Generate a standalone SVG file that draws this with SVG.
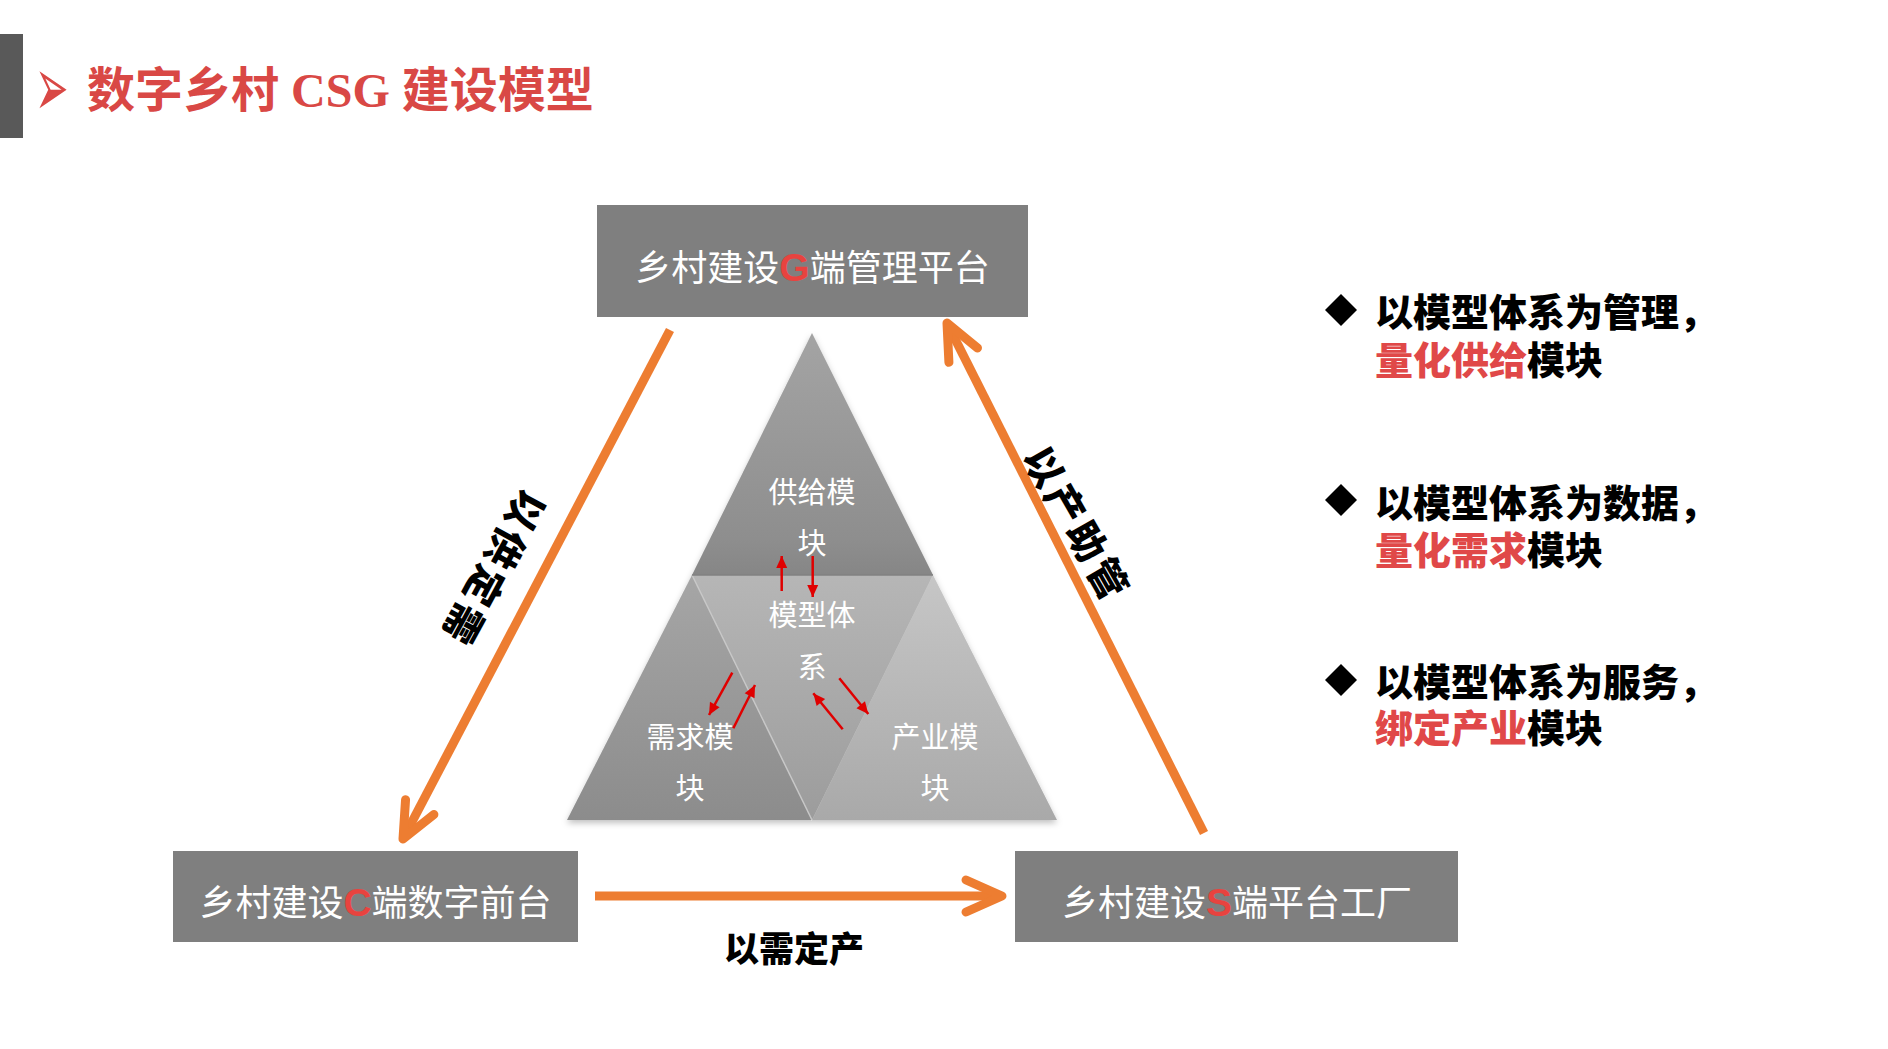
<svg xmlns="http://www.w3.org/2000/svg" width="1888" height="1049" viewBox="0 0 1888 1049">
<defs>
<style>
.cjk{font-family:"Noto Sans CJK SC","Noto Sans",sans-serif;}
.node-rect{fill:#7f7f7f;}
.node-text{font-family:"Noto Sans CJK SC","Noto Sans",sans-serif;font-size:36px;fill:#ffffff;text-anchor:middle;}
.node-letter{font-family:"Liberation Sans","Noto Sans CJK SC",sans-serif;font-weight:bold;font-size:39px;fill:#e8433f;}
.tri-text{font-family:"Noto Sans CJK SC","Noto Sans",sans-serif;font-size:29px;fill:#ffffff;text-anchor:middle;}
.orange{fill:none;stroke:#ed7d31;stroke-width:9;}
.redline{fill:none;stroke:#e00000;stroke-width:2.5;}
.edge-label{font-family:"Noto Sans CJK SC","Noto Sans",sans-serif;font-weight:900;font-size:39px;fill:#000000;text-anchor:middle;}
.bottom-label{font-size:35px;}
.bullet{font-family:"Noto Sans CJK SC","Noto Sans",sans-serif;font-weight:900;font-size:38px;fill:#000000;}
.hl{fill:#e04848;}
</style>
<marker id="chev" markerUnits="userSpaceOnUse" viewBox="-45 -25 52 50" markerWidth="52" markerHeight="50" refX="0" refY="0" orient="auto">
<path d="M-36,-16 L0,0 L-36,16" fill="none" stroke="#ed7d31" stroke-width="9" stroke-linecap="round" stroke-linejoin="round"/>
</marker>
<marker id="redhead" markerUnits="userSpaceOnUse" viewBox="-13 -6 14 12" markerWidth="14" markerHeight="12" refX="0" refY="0" orient="auto">
<path d="M-12,-5.5 L0,0 L-12,5.5 Z" fill="#e00000"/>
</marker>
<linearGradient id="gTop" x1="0" y1="0" x2="0" y2="1">
<stop offset="0" stop-color="#a4a4a4"/>
<stop offset="0.85" stop-color="#8e8e8e"/>
<stop offset="1" stop-color="#868686"/>
</linearGradient>
<linearGradient id="gLeft" x1="0" y1="0" x2="0" y2="1">
<stop offset="0" stop-color="#a6a6a6"/>
<stop offset="1" stop-color="#8c8c8c"/>
</linearGradient>
<linearGradient id="gMid" x1="0" y1="0" x2="0" y2="1">
<stop offset="0" stop-color="#b6b6b6"/>
<stop offset="1" stop-color="#9c9c9c"/>
</linearGradient>
<linearGradient id="gRight" x1="0" y1="0" x2="0" y2="1">
<stop offset="0" stop-color="#c6c6c6"/>
<stop offset="1" stop-color="#a9a9a9"/>
</linearGradient>
<filter id="shadow" x="-10%" y="-10%" width="120%" height="125%">
<feDropShadow dx="0" dy="3" stdDeviation="3" flood-color="#000000" flood-opacity="0.25"/>
</filter>
</defs>
<rect width="1888" height="1049" fill="#ffffff"/>

<g id="title">
<rect x="0" y="34" width="23" height="104" fill="#595959"/>
<text transform="translate(35,116) scale(1,2.1)" font-family="DejaVu Sans,sans-serif" font-size="40" fill="#d94845">➢</text>
<text x="87" y="107" font-size="48" font-weight="bold" fill="#d94845"><tspan class="cjk">数字乡村</tspan><tspan font-family="Liberation Serif,serif"> CSG </tspan><tspan class="cjk">建设模型</tspan></text>
</g>

<g id="pyramid" filter="url(#shadow)">
<polygon points="812,333 692,575 933,575" fill="url(#gTop)"/>
<polygon points="692,575 567,820 812,820" fill="url(#gLeft)"/>
<polygon points="933,575 812,820 1057,820" fill="url(#gRight)"/>
<polygon points="692,575 933,575 812,820" fill="url(#gMid)"/>
<polyline points="692,575 812,820" fill="none" stroke="#c8c8c8" stroke-width="1.5"/>
<line x1="692" y1="575" x2="933" y2="575" stroke="#808080" stroke-width="1.5"/>
</g>

<g id="node-supply">
<text class="tri-text" x="812" y="503">供给模</text>
<text class="tri-text" x="812" y="554">块</text>
</g>
<g id="node-model">
<text class="tri-text" x="812" y="626">模型体</text>
<text class="tri-text" x="812" y="678">系</text>
</g>
<g id="node-demand">
<text class="tri-text" x="690" y="748">需求模</text>
<text class="tri-text" x="690" y="799">块</text>
</g>
<g id="node-industry">
<text class="tri-text" x="935" y="748">产业模</text>
<text class="tri-text" x="935" y="799">块</text>
</g>

<g id="node-G">
<rect class="node-rect" x="597" y="205" width="431" height="112"/>
<text class="node-text" x="812.5" y="281">乡村建设<tspan class="node-letter">G</tspan>端管理平台</text>
</g>
<g id="node-C">
<rect class="node-rect" x="173" y="851" width="405" height="91"/>
<text class="node-text" x="375.5" y="916">乡村建设<tspan class="node-letter">C</tspan>端数字前台</text>
</g>
<g id="node-S">
<rect class="node-rect" x="1015" y="851" width="443" height="91"/>
<text class="node-text" x="1237" y="916">乡村建设<tspan class="node-letter">S</tspan>端平台工厂</text>
</g>

<g id="connectors">
<line class="orange" x1="670" y1="330" x2="403" y2="839" marker-end="url(#chev)"/>
<line class="orange" x1="1204" y1="833" x2="947" y2="323" marker-end="url(#chev)"/>
<line class="orange" x1="595" y1="896" x2="1002" y2="896" marker-end="url(#chev)"/>
<line class="redline" x1="781.7" y1="591" x2="781.7" y2="556" marker-end="url(#redhead)"/>
<line class="redline" x1="812.7" y1="556" x2="812.7" y2="597" marker-end="url(#redhead)"/>
<line class="redline" x1="732.3" y1="672.7" x2="709" y2="715" marker-end="url(#redhead)"/>
<line class="redline" x1="733.3" y1="728.3" x2="755" y2="685" marker-end="url(#redhead)"/>
<line class="redline" x1="839.3" y1="678.3" x2="868.3" y2="714" marker-end="url(#redhead)"/>
<line class="redline" x1="842.7" y1="729.3" x2="813.3" y2="693.3" marker-end="url(#redhead)"/>
<text class="edge-label" transform="translate(496,570) rotate(118.6)" dominant-baseline="central" letter-spacing="4">以供定需</text>
<text class="edge-label" transform="translate(1079,523) rotate(60.2)" dominant-baseline="central" letter-spacing="4">以产助管</text>
<text class="edge-label bottom-label" x="794" y="962">以需定产</text>
</g>

<g id="bullets">
<g id="bullet-1">
<polygon points="1341,294 1357,310 1341,326 1325,310" fill="#000000"/>
<text class="bullet" x="1375" y="326">以模型体系为管理，</text>
<text class="bullet" x="1375" y="374"><tspan class="hl">量化供给</tspan>模块</text>
</g>
<g id="bullet-2">
<polygon points="1341,484 1357,500 1341,516 1325,500" fill="#000000"/>
<text class="bullet" x="1375" y="517">以模型体系为数据，</text>
<text class="bullet" x="1375" y="564"><tspan class="hl">量化需求</tspan>模块</text>
</g>
<g id="bullet-3">
<polygon points="1341,664 1357,680 1341,696 1325,680" fill="#000000"/>
<text class="bullet" x="1375" y="696">以模型体系为服务，</text>
<text class="bullet" x="1375" y="742"><tspan class="hl">绑定产业</tspan>模块</text>
</g>
</g>
</svg>
